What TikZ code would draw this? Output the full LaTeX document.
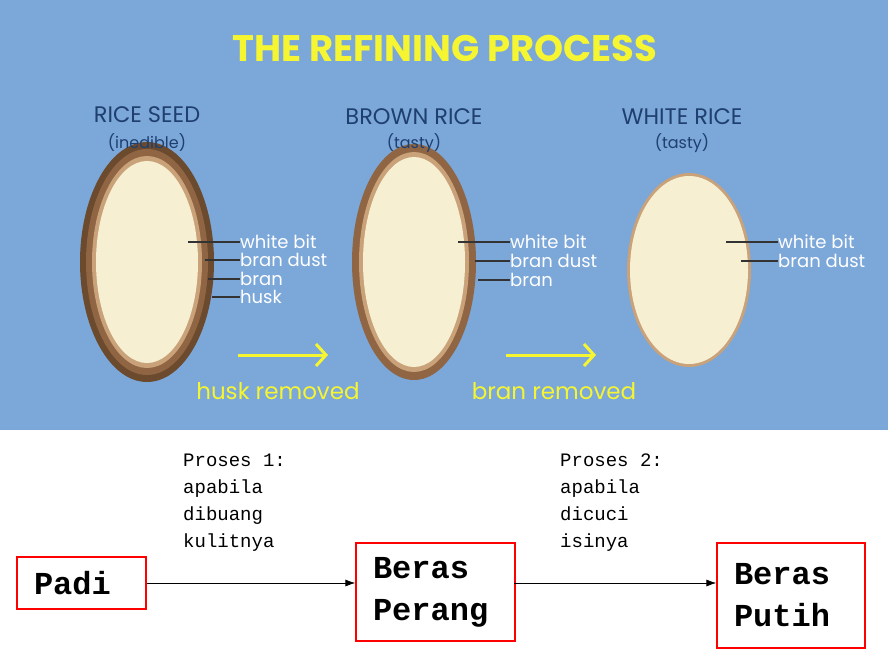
\documentclass[tikz,border=0pt]{standalone}
\usepackage{fontspec}
\setmainfont{Poppins}
\newfontfamily\titlef{Poppins}[UprightFont=* Bold]
\newfontfamily\monof{Liberation Mono}
\usetikzlibrary{arrows.meta}
\definecolor{bg}{HTML}{7BA7D9}
\definecolor{hd}{HTML}{1F3F6E}
\definecolor{yl}{HTML}{F5F532}
\definecolor{dk}{HTML}{6B4A2E}
\definecolor{md}{HTML}{8F6543}
\definecolor{lt}{HTML}{C9A27A}
\definecolor{cr}{HTML}{F7EFD2}
\tikzset{
 hdtxt/.style={text=hd,font=\fontsize{22.5}{22.5}\selectfont,inner sep=0},
 subtxt/.style={text=hd,font=\fontsize{16}{16}\selectfont,inner sep=0},
 lbl/.style={text=white,font=\fontsize{18}{18}\selectfont,inner sep=0,anchor=west},
 tick/.style={black!80,line width=1.3pt},
 yarr/.style={yl,line width=3pt,-{Straight Barb[length=10pt,width=22pt]}},
 ycap/.style={text=yl,font=\fontsize{23}{23}\selectfont,inner sep=0},
 rbox/.style={draw=red,line width=1.3pt,font=\monof\bfseries\fontsize{32}{42}\selectfont,align=left,inner ysep=0,inner xsep=17},
 mtxt/.style={font=\monof\fontsize{19}{27}\selectfont,align=left,anchor=north west,inner sep=0},
 conn/.style={-{Latex[length=10pt,width=7pt]},line width=0.8pt}
}
\begin{document}
\begin{tikzpicture}[x=1pt,y=-1pt]
\useasboundingbox (0,0) rectangle (890,652);
\fill[white] (0,0) rectangle (890,652);
\fill[bg] (0,0) rectangle (888,430);
\node[text=yl,font=\titlef\fontsize{37}{37}\selectfont,inner sep=0] (title) at (445,48) {THE REFINING PROCESS};
% seed 1
\fill[dk] (147,262) ellipse (67 and 120);
\fill[md] (147,262) ellipse (61 and 113);
\fill[lt] (147,262) ellipse (55 and 106);
\fill[cr] (147,262) ellipse (51 and 101);
% seed 2
\fill[md] (414,262) ellipse (62 and 118);
\fill[lt] (414,262) ellipse (55 and 110);
\fill[cr] (414,262) ellipse (51 and 105);
% seed 3
\fill[lt] (689,270) ellipse (62 and 97);
\fill[cr] (689,270) ellipse (59 and 94);
\node[hdtxt] (h1) at (147,115) {RICE SEED};
\node[subtxt] (s1) at (147,143) {(inedible)};
\node[hdtxt] (h2) at (414,117) {BROWN RICE};
\node[subtxt] (s2) at (414,143) {(tasty)};
\node[hdtxt] (h3) at (682,117) {WHITE RICE};
\node[subtxt] (s3) at (682,143) {(tasty)};
% labels 1
\node[lbl] (a1) at (240,242) {white bit};
\node[lbl] (a2) at (240,260) {bran dust};
\node[lbl] (a3) at (240,279) {bran};
\node[lbl] (a4) at (240,297) {husk};
\coordinate (pa1) at (188,242); \coordinate (pa2) at (205,260);
\coordinate (pa3) at (208,279); \coordinate (pa4) at (212,297);
\draw[tick] (pa1) -- (a1.west); \draw[tick] (pa2) -- (a2.west);
\draw[tick] (pa3) -- (a3.west); \draw[tick] (pa4) -- (a4.west);
\node[lbl] (b1) at (510,242) {white bit};
\node[lbl] (b2) at (510,261) {bran dust};
\node[lbl] (b3) at (510,280) {bran};
\coordinate (pb1) at (458,242); \coordinate (pb2) at (475,261); \coordinate (pb3) at (478,280);
\draw[tick] (pb1) -- (b1.west); \draw[tick] (pb2) -- (b2.west); \draw[tick] (pb3) -- (b3.west);
\node[lbl] (c1) at (778,242) {white bit};
\node[lbl] (c2) at (778,261) {bran dust};
\coordinate (pc1) at (726,242); \coordinate (pc2) at (741,261);
\draw[tick] (pc1) -- (c1.west); \draw[tick] (pc2) -- (c2.west);
% yellow arrows
\coordinate (y1s) at (238,355); \coordinate (y1e) at (328,355);
\coordinate (y2s) at (506,355); \coordinate (y2e) at (596,355);
\draw[yarr] (y1s) -- (y1e);
\draw[yarr] (y2s) -- (y2e);
\node[ycap] (hr) at (278,391) {husk removed};
\node[ycap] (br) at (554,391) {bran removed};
% bottom
\node[rbox,minimum width=129,minimum height=52,text width=95] (padi) at (81.5,583) {Padi};
\node[rbox,minimum width=159,minimum height=98,text width=125] (perang) at (435.5,592) {Beras\\Perang};
\node[rbox,minimum width=148,minimum height=105,text width=114] (putih) at (791,595.5) {Beras\\Putih};
\draw[conn] (padi.east) -- (padi.east -| perang.west);
\draw[conn] (perang.west |- padi.east) ++(159,0) coordinate (pe) -- (pe -| putih.west);
\node[mtxt] (p1) at (183,454) {Proses 1:\\apabila\\dibuang\\kulitnya};
\node[mtxt] (p2) at (560,454) {Proses 2:\\apabila\\dicuci\\isinya};
\end{tikzpicture}
\end{document}
